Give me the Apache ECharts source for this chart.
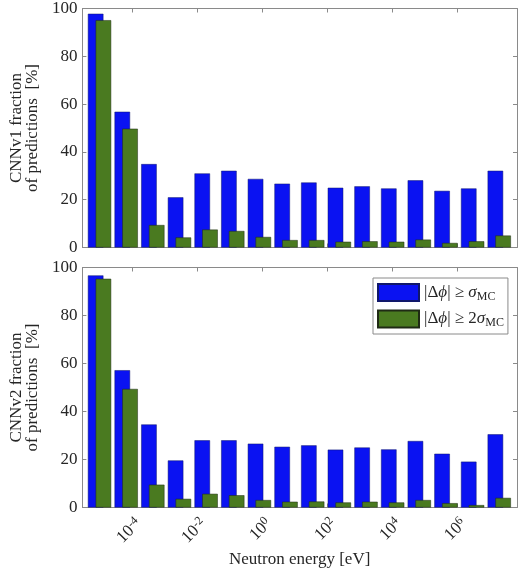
<!DOCTYPE html>
<html>
<head>
<meta charset="utf-8">
<script src="https://cdn.jsdelivr.net/npm/echarts@6/dist/echarts.min.js"></script>
<style>
  html, body { margin: 0; padding: 0; background: #ffffff; }
  #chart { width: 520px; height: 573px; }
</style>
</head>
<body>
<div id="chart"></div>
<script>
// log10 of neutron energy bin centres [eV]
var binLog = [-5.0, -4.18, -3.36, -2.54, -1.72, -0.90, -0.08, 0.74, 1.56, 2.38, 3.20, 4.02, 4.84, 5.66, 6.48, 7.30];
// decade tick positions (log10 eV)
var decadeTicks = [-4, -2, 0, 2, 4, 6];
var yTicks = [0, 20, 40, 60, 80, 100];

// CNNv1 fraction of predictions [%]
var cnn1Sigma1 = [97.8, 56.8, 34.9, 21.0, 31.0, 32.1, 28.7, 26.7, 27.2, 25.0, 25.6, 24.7, 28.1, 23.7, 24.7, 32.1];
var cnn1Sigma2 = [95.1, 49.7, 9.4, 4.2, 7.5, 6.9, 4.4, 3.1, 3.1, 2.4, 2.6, 2.4, 3.3, 1.9, 2.6, 5.0];
// CNNv2 fraction of predictions [%]
var cnn2Sigma1 = [96.7, 57.2, 34.6, 19.6, 28.0, 28.0, 26.6, 25.3, 25.9, 24.1, 25.0, 24.2, 27.7, 22.4, 19.1, 30.5];
var cnn2Sigma2 = [95.3, 49.4, 9.5, 3.6, 5.7, 5.1, 3.1, 2.4, 2.5, 2.1, 2.4, 2.1, 3.1, 1.8, 1.0, 4.0];

var seriesNames = ['|Δϕ| ≥ σMC', '|Δϕ| ≥ 2σMC'];
var legendRich = {
  '|Δϕ| ≥ σMC': '{t||Δ}{i|ϕ}{t|| ≥ }{i|σ}{sub|MC}',
  '|Δϕ| ≥ 2σMC': '{t||Δ}{i|ϕ}{t|| ≥ 2}{i|σ}{sub|MC}'
};
var yNames = ['CNNv1 fraction\nof predictions  [%]', 'CNNv2 fraction\nof predictions  [%]'];
var xName = 'Neutron energy [eV]';

var FONT = '"Liberation Serif", "Times New Roman", serif';
var TXT = '#262626';
var AX = '#8a8a8a';
var BLUE = '#0a12f2';
var GREEN = '#4a7a20';
var XMIN = -5.527, XMAX = 7.846;

function pairs(xs, ys) { return xs.map(function (x, i) { return [x, ys[i]]; }); }

function xAxisDef(grid, pos, showLabels) {
  return {
    type: 'value', gridIndex: grid, position: pos, min: XMIN, max: XMAX,
    axisLine: { show: true, onZero: false, lineStyle: { color: AX, width: 1 } },
    axisTick: { show: true, inside: true, length: 4, customValues: decadeTicks, lineStyle: { color: AX } },
    splitLine: { show: false },
    axisLabel: showLabels ? {
      show: true, rotate: 45, margin: 7, customValues: decadeTicks,
      verticalAlign: 'top',
      formatter: function (v) { return '{b|10}{s|' + (v < 0 ? '-' + Math.abs(v) : v) + '}'; },
      rich: {
        b: { fontFamily: FONT, fontSize: 17, color: TXT, lineHeight: 19 },
        s: { fontFamily: FONT, fontSize: 12, color: TXT, verticalAlign: 'top', lineHeight: 12 }
      }
    } : { show: false },
    name: showLabels ? xName : '',
    nameLocation: 'middle', nameGap: 44,
    nameTextStyle: { fontFamily: FONT, fontSize: 17, color: TXT }
  };
}
function yAxisDef(grid, pos, showLabels, name) {
  return {
    type: 'value', gridIndex: grid, position: pos, min: 0, max: 100, interval: 20,
    axisLine: { show: true, onZero: false, lineStyle: { color: AX, width: 1 } },
    axisTick: { show: true, inside: true, length: 4, lineStyle: { color: AX } },
    splitLine: { show: false },
    axisLabel: showLabels ? { show: true, margin: 5, fontFamily: FONT, fontSize: 17, color: TXT } : { show: false },
    name: name || '', nameLocation: 'middle', nameRotate: 90, nameGap: 26,
    nameTextStyle: { fontFamily: FONT, fontSize: 17, color: TXT, lineHeight: 16, align: 'center' }
  };
}
function barSeries(name, xi, yi, data, color, border) {
  return {
    type: 'bar', name: name, xAxisIndex: xi, yAxisIndex: yi,
    data: pairs(binLog, data), barWidth: 15.5, barGap: '-50%',
    itemStyle: { color: color, borderColor: border, borderWidth: 0.5 },
    emphasis: { disabled: true }
  };
}

var chart = echarts.init(document.getElementById('chart'), null, { renderer: 'canvas' });
chart.setOption({
  animation: false,
  backgroundColor: '#ffffff',
  grid: [
    { left: 73, right: 3, top: 7.5, height: 240 },
    { left: 73, right: 3, top: 267.5, height: 240 }
  ],
  xAxis: [
    xAxisDef(0, 'bottom', false), xAxisDef(0, 'top', false),
    xAxisDef(1, 'bottom', true), xAxisDef(1, 'top', false)
  ],
  yAxis: [
    yAxisDef(0, 'left', true, yNames[0]), yAxisDef(0, 'right', false),
    yAxisDef(1, 'left', true, yNames[1]), yAxisDef(1, 'right', false)
  ],
  legend: {
    data: seriesNames, orient: 'vertical', left: 373, top: 278,
    itemWidth: 41, itemHeight: 17, itemGap: 7,
    padding: [5, 4, 5, 4],
    borderColor: AX, borderWidth: 1, backgroundColor: '#ffffff',
    icon: 'rect', selectedMode: false,
    formatter: function (n) { return legendRich[n]; },
    textStyle: {
      fontFamily: FONT, fontSize: 17, color: TXT,
      rich: {
        t: { fontFamily: FONT, fontSize: 17, color: TXT, lineHeight: 20 },
        i: { fontFamily: FONT, fontSize: 17, fontStyle: 'italic', color: TXT, lineHeight: 20 },
        sub: { fontFamily: FONT, fontSize: 12, color: TXT, verticalAlign: 'bottom', lineHeight: 12 }
      }
    }
  },
  series: [
    barSeries(seriesNames[0], 0, 0, cnn1Sigma1, BLUE, '#10186a'),
    barSeries(seriesNames[1], 0, 0, cnn1Sigma2, GREEN, '#1f2a14'),
    barSeries(seriesNames[0], 2, 2, cnn2Sigma1, BLUE, '#10186a'),
    barSeries(seriesNames[1], 2, 2, cnn2Sigma2, GREEN, '#1f2a14')
  ]
});
</script>
</body>
</html>
